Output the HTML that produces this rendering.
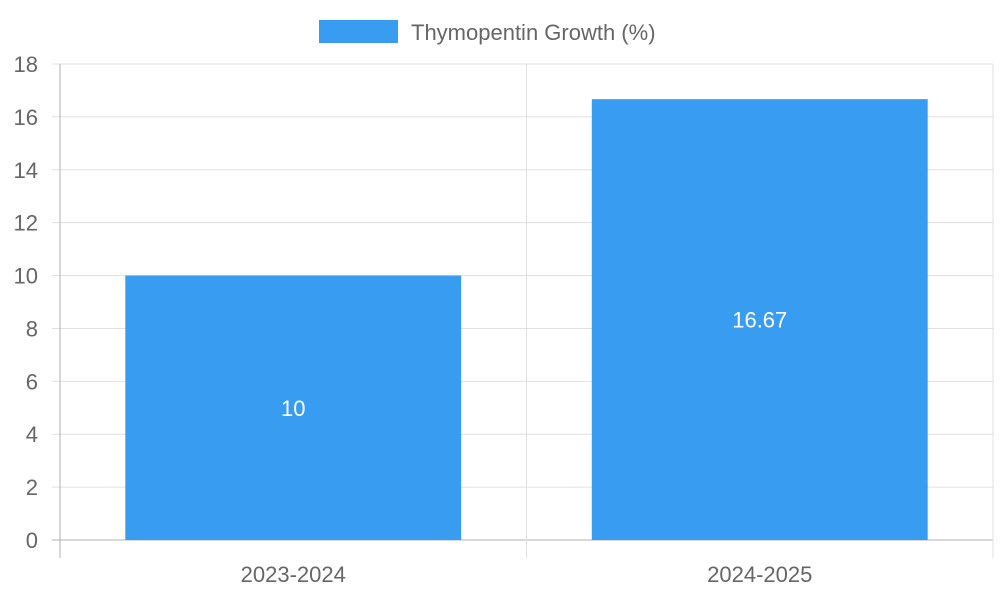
<!DOCTYPE html>
<html><head><meta charset="utf-8"><style>
html,body{margin:0;padding:0;background:#fff;}
svg{display:block;font-family:"Liberation Sans",sans-serif;}
</style></head><body>
<svg id="chart" width="1000" height="600"></svg>
<script>
const categories = ["2023-2024", "2024-2025"];
const values = [10, 16.67];
const yTicks = [0, 2, 4, 6, 8, 10, 12, 14, 16, 18];
const seriesName = "Thymopentin Growth (%)";

const NS = "http://www.w3.org/2000/svg";
const svg = document.getElementById("chart");
const L = 60, R = 993, T = 64, B = 540, yMax = 18;
const y = v => B - (v / yMax) * (B - T);
const catW = (R - L) / categories.length;
const x = i => L + catW * i;
function mk(tag, attrs, parent) {
  const e = document.createElementNS(NS, tag);
  for (const k in attrs) e.setAttribute(k, attrs[k]);
  (parent || svg).appendChild(e);
  return e;
}
// legend
const lg = mk("g", {});


mk("rect", {x: 319, y: 20, width: 79, height: 23, fill: "#389cf0"}, lg);
const lt = mk("text", {x: 411, y: 40, "font-size": 22, fill: "#666"}, lg);
lt.textContent = seriesName;
// grid + y ticks
yTicks.forEach(t => {
  const gl = mk("line", {x1: 52, x2: R, y1: y(t), y2: y(t), stroke: t === 0 ? "#b0b0b0" : "#e0e0e0", "stroke-width": 1});
  
  
  const tl = mk("text", {x: 38, y: y(t) + 8, "font-size": 22, fill: "#666", "text-anchor": "end"});
  
  
  tl.textContent = t;
});
// vertical grid
for (let i = 0; i <= categories.length; i++) {
  const vl = mk("line", {x1: x(i), x2: x(i), y1: T, y2: 558, stroke: i === 0 ? "#b0b0b0" : "#e0e0e0", "stroke-width": 1});
  
  
}
// bars
categories.forEach((c, i) => {
  const bw = catW * 0.72;
  const bx = x(i) + (catW - bw) / 2;
  const bar = mk("rect", {x: bx, y: y(values[i]), width: bw, height: B - y(values[i]), fill: "#389cf0"});
  
  
  const vt = mk("text", {x: bx + bw / 2, y: (y(values[i]) + B) / 2 + 8, "font-size": 22, fill: "#fff", "text-anchor": "middle"});
  
  
  vt.textContent = values[i];
  const xl = mk("text", {x: x(i) + catW / 2, y: 582, "font-size": 22, fill: "#666", "text-anchor": "middle"});
  
  
  xl.textContent = c;
});
</script>
</body></html>
